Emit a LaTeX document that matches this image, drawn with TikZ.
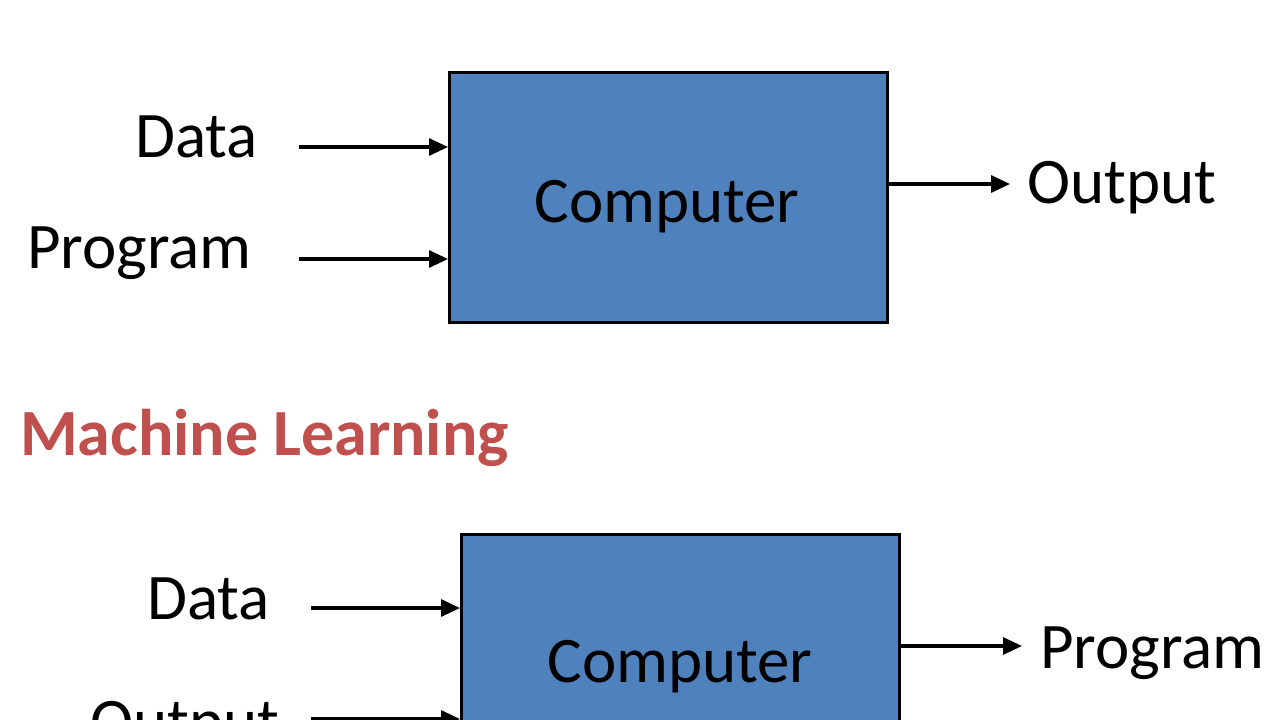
\documentclass[tikz,border=0pt]{standalone}
\usepackage{fontspec}
\setmainfont{Carlito}
\usetikzlibrary{arrows.meta}
\definecolor{boxblue}{RGB}{79,129,189}
\definecolor{mlred}{RGB}{192,80,77}
\tikzset{
  compbox/.style={draw=black, line width=3pt, fill=boxblue, rectangle, minimum width=438pt, minimum height=250pt, inner sep=0pt, anchor=north west},
  lbl/.style={inner sep=0pt, font=\fontsize{65}{70}\selectfont, text=black},
  arr/.style={line width=3.2pt, -{Triangle[length=19pt,width=17pt]}},
}
\begin{document}
\begin{tikzpicture}[x=1pt,y=-1pt]
\useasboundingbox (0,0) rectangle (1280,720);
% top diagram
\node[compbox] (box1) at (448,71) {};
\node[lbl, anchor=base] (comp1) at (667,222) {Computer};
\node[lbl, anchor=base east] (data1) at (258,157) {Data};
\node[lbl, anchor=base west] (prog1) at (27,268) {Program};
\node[lbl, anchor=base west] (out1) at (1027,203) {Output};
\coordinate (d1s) at (299,147);
\coordinate (p1s) at (299,259);
\coordinate (o1e) at (1010,184);
\draw[arr] (d1s) -- (box1.west |- d1s);
\draw[arr] (p1s) -- (box1.west |- p1s);
\draw[arr] (box1.east |- o1e) -- (o1e);
% title
\node[inner sep=0pt, anchor=base west, font=\bfseries\fontsize{66}{70}\selectfont, text=mlred] (ml) at (20,455) {Machine Learning};
% bottom diagram
\node[compbox] (box2) at (460,533) {};
\node[lbl, anchor=base] (comp2) at (680,682) {Computer};
\node[lbl, anchor=base east] (data2) at (270,619) {Data};
\node[lbl, anchor=base east] (out2) at (280,743) {Output};
\node[lbl, anchor=base west] (prog2) at (1040,668) {Program};
\coordinate (d2s) at (311,608);
\coordinate (o2s) at (311,719);
\coordinate (p2e) at (1022,646);
\draw[arr] (d2s) -- (box2.west |- d2s);
\draw[arr] (o2s) -- (box2.west |- o2s);
\draw[arr] (box2.east |- p2e) -- (p2e);
\end{tikzpicture}
\end{document}
